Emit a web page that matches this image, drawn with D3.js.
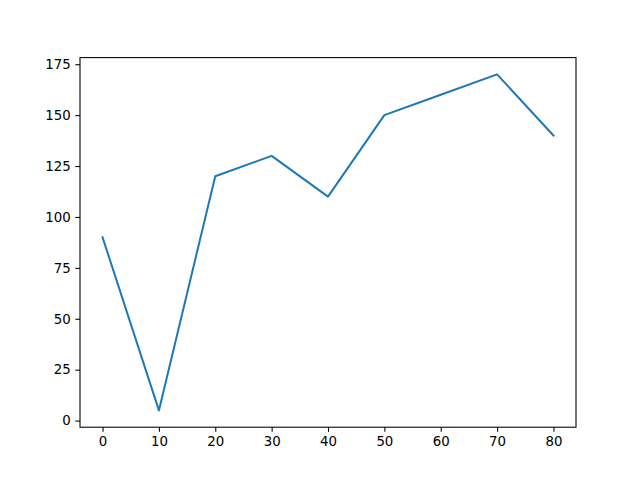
<!DOCTYPE html>
<html>
<head>
<meta charset="utf-8">
<script src="https://cdn.jsdelivr.net/npm/d3@7"></script>
<style>
  body { margin: 0; background: #fff; }
  svg { display: block; }
  .tick text { font-family: "DejaVu Sans", sans-serif; font-size: 13.33px; fill: #000; }
</style>
</head>
<body>
<script>
const xValues = [0, 10, 20, 30, 40, 50, 60, 70, 80];
const yValues = [90, 5, 120, 130, 110, 150, 160, 170, 140];
const xTicks = [0, 10, 20, 30, 40, 50, 60, 70, 80];
const yTicks = [0, 25, 50, 75, 100, 125, 150, 175];

const W = 640, H = 480;
const mLeft = 80, mRight = 576, mTop = 57.6, mBottom = 427.2;

const svg = d3.select("body").append("svg").attr("width", W).attr("height", H);
svg.append("rect").attr("width", W).attr("height", H).attr("fill", "#fff");

const xmin = d3.min(xValues), xmax = d3.max(xValues);
const ymin = d3.min(yValues), ymax = d3.max(yValues);
const xm = (xmax - xmin) * 0.05, ym = (ymax - ymin) * 0.05;

const x = d3.scaleLinear().domain([xmin - xm, xmax + xm]).range([mLeft, mRight]);
const y = d3.scaleLinear().domain([ymin - ym, ymax + ym]).range([mBottom, mTop]);

const line = d3.line().x((d, i) => x(xValues[i])).y(d => y(d));
svg.append("path").datum(yValues)
  .attr("d", line)
  .attr("fill", "none")
  .attr("stroke", "#1f77b4")
  .attr("stroke-width", 2)
  .attr("stroke-linejoin", "round")
  .attr("stroke-linecap", "square");

const xAxis = svg.append("g").attr("transform", `translate(0,${mBottom})`)
  .call(d3.axisBottom(x).tickValues(xTicks).tickSize(4.67).tickPadding(4.67).tickFormat(d3.format("d")));
const yAxis = svg.append("g").attr("transform", `translate(${mLeft},0)`)
  .call(d3.axisLeft(y).tickValues(yTicks).tickSize(4.67).tickPadding(4.67).tickFormat(d3.format("d")));
[xAxis, yAxis].forEach(g => {
  g.select(".domain").remove();
  g.selectAll(".tick line").attr("stroke", "#000").attr("stroke-width", 1.07);
  g.attr("font-family", null).attr("font-size", null);
});

svg.append("rect")
  .attr("x", mLeft).attr("y", mTop)
  .attr("width", mRight - mLeft).attr("height", mBottom - mTop)
  .attr("fill", "none").attr("stroke", "#000").attr("stroke-width", 1.07);
</script>
</body>
</html>
